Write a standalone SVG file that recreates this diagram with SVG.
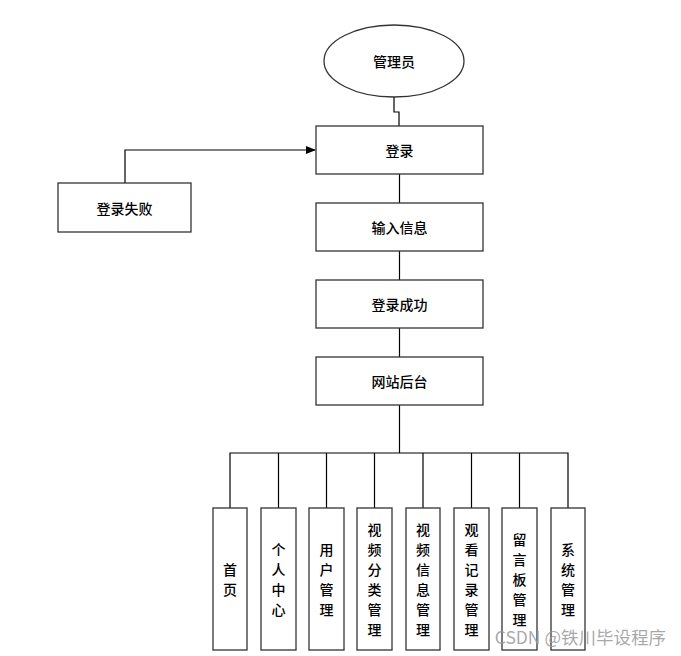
<svg xmlns="http://www.w3.org/2000/svg" width="681" height="656" viewBox="0 0 681 656">
<style>
.b{fill:#fff;stroke:#333;stroke-width:1.3}
.t{font-family:"Noto Sans CJK SC",sans-serif;font-size:14px;font-weight:500;fill:#000;text-anchor:middle;dominant-baseline:central}
.c{fill:none;stroke:#000;stroke-width:1.2}
</style>
<defs><marker id="a" markerWidth="10" markerHeight="10" refX="9" refY="5" orient="auto" markerUnits="userSpaceOnUse"><path d="M0,1 L10,5 L0,9 Z" fill="#000"/></marker></defs>
<rect width="681" height="656" fill="#fff"/>
<g id="connectors">
<path class="c" d="M394,96 V112 H399 V126"/>
<path class="c" d="M125,183 V150 H315" marker-end="url(#a)"/>
<path class="c" d="M399.5,174 V203 M399.5,251 V280 M399.5,328 V357"/>
<path class="c" stroke-width="2" d="M399.5,405 V453"/>
<path class="c" d="M230,508 V453 H568 V508 M278.5,453 V508 M326.5,453 V508 M374.5,453 V508 M423,453 V508 M471.5,453 V508 M519.5,453 V508"/>
</g>
<g id="n0"><ellipse class="b" cx="394" cy="61" rx="70" ry="36"/><text class="t" x="394" y="61">管理员</text></g>
<g id="n1"><rect class="b" x="316" y="126" width="167" height="48"/><text class="t" x="399.5" y="150">登录</text></g>
<g id="n2"><rect class="b" x="58" y="183" width="133" height="49"/><text class="t" x="124.5" y="208">登录失败</text></g>
<g id="n3"><rect class="b" x="316" y="203" width="167" height="48"/><text class="t" x="399.5" y="227">输入信息</text></g>
<g id="n4"><rect class="b" x="316" y="280" width="167" height="48"/><text class="t" x="399.5" y="304">登录成功</text></g>
<g id="n5"><rect class="b" x="316" y="357" width="167" height="48"/><text class="t" x="399.5" y="381">网站后台</text></g>
<g id="l1"><rect class="b" x="213" y="508" width="34" height="142"/><text class="t" x="230"><tspan x="230" y="569">首</tspan><tspan x="230" y="589">页</tspan></text></g>
<g id="l2"><rect class="b" x="261" y="508" width="35" height="142"/><text class="t"><tspan x="278.5" y="549">个</tspan><tspan x="278.5" y="569">人</tspan><tspan x="278.5" y="589">中</tspan><tspan x="278.5" y="609">心</tspan></text></g>
<g id="l3"><rect class="b" x="309" y="508" width="35" height="142"/><text class="t"><tspan x="326.5" y="549">用</tspan><tspan x="326.5" y="569">户</tspan><tspan x="326.5" y="589">管</tspan><tspan x="326.5" y="609">理</tspan></text></g>
<g id="l4"><rect class="b" x="357" y="508" width="35" height="142"/><text class="t"><tspan x="374.5" y="529">视</tspan><tspan x="374.5" y="549">频</tspan><tspan x="374.5" y="569">分</tspan><tspan x="374.5" y="589">类</tspan><tspan x="374.5" y="609">管</tspan><tspan x="374.5" y="629">理</tspan></text></g>
<g id="l5"><rect class="b" x="406" y="508" width="34" height="142"/><text class="t"><tspan x="423" y="529">视</tspan><tspan x="423" y="549">频</tspan><tspan x="423" y="569">信</tspan><tspan x="423" y="589">息</tspan><tspan x="423" y="609">管</tspan><tspan x="423" y="629">理</tspan></text></g>
<g id="l6"><rect class="b" x="454" y="508" width="35" height="142"/><text class="t"><tspan x="471.5" y="529">观</tspan><tspan x="471.5" y="549">看</tspan><tspan x="471.5" y="569">记</tspan><tspan x="471.5" y="589">录</tspan><tspan x="471.5" y="609">管</tspan><tspan x="471.5" y="629">理</tspan></text></g>
<g id="l7"><rect class="b" x="502" y="508" width="35" height="142"/><text class="t"><tspan x="519.5" y="539">留</tspan><tspan x="519.5" y="559">言</tspan><tspan x="519.5" y="579">板</tspan><tspan x="519.5" y="599">管</tspan><tspan x="519.5" y="619">理</tspan></text></g>
<g id="l8"><rect class="b" x="551" y="508" width="34" height="142"/><text class="t"><tspan x="568" y="549">系</tspan><tspan x="568" y="569">统</tspan><tspan x="568" y="589">管</tspan><tspan x="568" y="609">理</tspan></text></g>
<text x="666" y="636" font-family="'Noto Sans CJK SC',sans-serif" font-size="17.5" fill="#999" fill-opacity="0.85" text-anchor="end" dominant-baseline="central">CSDN @铁川毕设程序</text>
</svg>
